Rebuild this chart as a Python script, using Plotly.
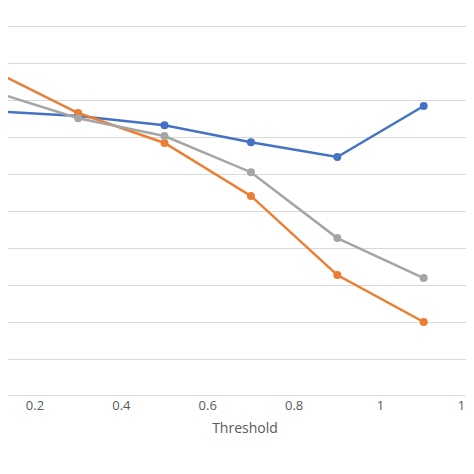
import plotly.graph_objects as go

x = [0.1, 0.3, 0.5, 0.7, 0.9, 1.1]
blue = [7.70, 7.57, 7.32, 6.86, 6.46, 7.84]
orange = [8.81, 7.65, 6.84, 5.41, 3.27, 2.00]
gray = [8.24, 7.51, 7.03, 6.05, 4.27, 3.19]
xticks = [0.2, 0.4, 0.6, 0.8, 1.0, 1.2]
xticklabels = ["0.2", "0.4", "0.6", "0.8", "1", "1.2"]

fig = go.Figure()
for ys, c in [(blue, "#4472C4"), (orange, "#ED7D31"), (gray, "#A5A5A5")]:
    fig.add_trace(go.Scatter(x=x, y=ys, mode="lines+markers",
                             line=dict(color=c, width=2.5),
                             marker=dict(color=c, size=8), cliponaxis=False))
fig.update_layout(
    width=474, height=474, showlegend=False,
    margin=dict(l=0, r=0, t=0, b=86, autoexpand=False),
    plot_bgcolor="white", paper_bgcolor="white",
    font=dict(family="Open Sans, Arial", color="#595959", size=13),
)
fig.update_xaxes(range=[0.1376, 1.235], tickvals=xticks, ticktext=xticklabels,
                 showgrid=False, zeroline=False, showline=False, ticks="",
                 automargin=False,
                 title=dict(text="Threshold", standoff=10, font=dict(size=14)))
fig.update_yaxes(range=[0, 10.49], dtick=1, showticklabels=False, automargin=False,
                 gridcolor="#D9D9D9", gridwidth=1, zeroline=False, showline=False)
fig.add_shape(type="line", xref="paper", yref="y", x0=0, x1=1, y0=0, y1=0,
              line=dict(color="#BFBFBF", width=1))
fig.write_html("out.html")
